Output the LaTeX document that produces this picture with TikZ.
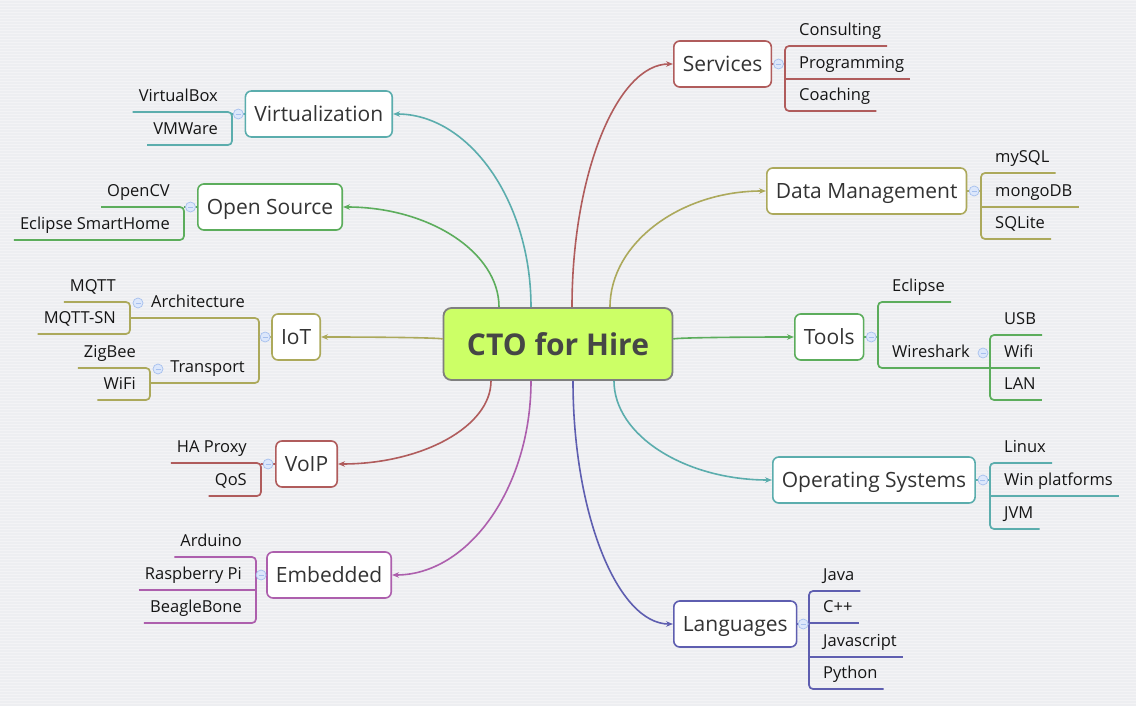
\documentclass[tikz,border=0pt]{standalone}
\usepackage{fontspec}
\setmainfont{Open Sans}
\usetikzlibrary{positioning,calc,arrows.meta}
\definecolor{BgGray}{HTML}{EDEEF1}
\definecolor{HubFill}{HTML}{CCFF66}
\definecolor{HubEdge}{HTML}{7F7F7F}
\definecolor{HubText}{HTML}{464646}
\definecolor{TopicText}{HTML}{333333}
\definecolor{LeafText}{HTML}{151515}
\definecolor{KnobFill}{HTML}{DCE7FB}
\definecolor{KnobEdge}{HTML}{A6C0EE}
\definecolor{RedBranch}{HTML}{B05C5C}
\definecolor{OliveBranch}{HTML}{ACA95B}
\definecolor{GreenBranch}{HTML}{5CAD5C}
\definecolor{TealBranch}{HTML}{5BADAD}
\definecolor{BlueBranch}{HTML}{5E5EB0}
\definecolor{PlumBranch}{HTML}{AD5FAD}
\newcommand{\HubFont}{\fontsize{30}{36}\selectfont\bfseries}
\newcommand{\TopicFont}{\fontsize{21}{25}\selectfont}
\newcommand{\LeafFont}{\fontsize{16.5}{19}\selectfont}
\newcommand{\Branch}[3]{%
  \draw[branch=#1] (#2) .. controls ($(#2)!0.55!(#2|-#3)$) and ($(#3)!0.55!(#3-|#2)$) .. (#3);}
\def\BoxHeight{46pt}
\tikzset{
  hub/.style={
    draw=HubEdge,
    fill=HubFill,
    rounded corners=8pt,
    line width=1.8pt,
    minimum width=229pt,
    minimum height=72pt,
    font=\HubFont,
    text=HubText
  },
  topic/.style={
    draw=#1,
    fill=white,
    rounded corners=6pt,
    line width=1.6pt,
    minimum height=\BoxHeight,
    inner xsep=9pt,
    text height=15pt,
    text depth=0pt,
    font=\TopicFont,
    text=TopicText
  },
  leafR/.style={font=\LeafFont, text=LeafText, inner sep=0pt,
    text height=12pt, text depth=10pt, anchor=south west,
    execute at begin node={\hspace*{14pt}}, execute at end node={\hspace*{6pt}}},
  leafL/.style={font=\LeafFont, text=LeafText, inner sep=0pt,
    text height=12pt, text depth=10pt, anchor=south east,
    execute at begin node={\hspace*{6pt}}, execute at end node={\hspace*{14pt}}},
  knob/.style={
    circle, draw=KnobEdge, fill=KnobFill, line width=0.7pt,
    minimum size=10pt, inner sep=0pt,
    path picture={\draw[KnobEdge, line width=0.9pt]
      ([xshift=-2.5pt]path picture bounding box.center) --
      ([xshift=2.5pt]path picture bounding box.center);}
  },
  branch/.style={draw=#1, line width=1.6pt, -{Stealth[length=7pt,width=5.5pt]}},
  twig/.style={draw=#1, line width=1.7pt, rounded corners=4pt}
}

\begin{document}
\begin{tikzpicture}[x=1pt,y=-1pt]
  \useasboundingbox (0,0) rectangle (1136,706);
  \fill[BgGray] (0,0) rectangle (1136,706);
  \foreach \y in {1,4,...,706}
    \draw[white, opacity=0.35, line width=1pt] (0,\y) -- (1136,\y);

  % central topic and main topics
  \node[hub] (hub) at (558,344) {CTO for Hire};

  \node[topic=RedBranch, anchor=west] (svc) at (673,64) {Services};
  \node[topic=OliveBranch, anchor=west] (data) at (766,191) {Data Management};
  \node[topic=GreenBranch, anchor=west] (tools) at (794,337) {Tools};
  \node[topic=TealBranch, anchor=west] (os) at (772,480) {Operating Systems};
  \node[topic=BlueBranch, anchor=west] (lang) at (673,624) {Languages};

  \node[topic=TealBranch, anchor=east] (virt) at (393,114) {Virtualization};
  \node[topic=GreenBranch, anchor=east] (open) at (343,207) {Open Source};
  \node[topic=OliveBranch, anchor=east] (iot) at (321,337) {IoT};
  \node[topic=RedBranch, anchor=east] (voip) at (338,464) {VoIP};
  \node[topic=PlumBranch, anchor=east] (emb) at (392,575) {Embedded};

  % branches out of the central topic
  \coordinate (svcOut) at ([xshift=14pt]hub.north);
  \coordinate (dataOut) at ([xshift=52pt]hub.north);
  \coordinate (virtOut) at ([xshift=-27pt]hub.north);
  \coordinate (openOut) at ([xshift=-59pt]hub.north);
  \coordinate (toolsOut) at ([yshift=5pt]hub.east);
  \coordinate (iotOut) at ([yshift=5pt]hub.west);
  \coordinate (voipOut) at ([xshift=-67pt]hub.south);
  \coordinate (embOut) at ([xshift=-27pt]hub.south);
  \coordinate (langOut) at ([xshift=15pt]hub.south);
  \coordinate (osOut) at ([xshift=56pt]hub.south);

  \Branch{RedBranch}{svcOut}{svc.west}
  \Branch{OliveBranch}{dataOut}{data.west}
  \Branch{GreenBranch}{toolsOut}{tools.west}
  \Branch{TealBranch}{osOut}{os.west}
  \Branch{BlueBranch}{langOut}{lang.west}
  \Branch{TealBranch}{virtOut}{virt.east}
  \Branch{GreenBranch}{openOut}{open.east}
  \Branch{OliveBranch}{iotOut}{iot.east}
  \Branch{RedBranch}{voipOut}{voip.east}
  \Branch{PlumBranch}{embOut}{emb.east}

  % Services
  \node[leafR] (consult) at (785,46) {Consulting};
  \node[leafR] (prog) at (785,79) {Programming};
  \node[leafR] (coach) at (785,111) {Coaching};
  \draw[twig=RedBranch] (consult.south east) -- (consult.south west) -- (coach.south west) -- (coach.south east);
  \draw[twig=RedBranch] (prog.south west) -- (prog.south east);
  \draw[twig=RedBranch] (svc.east) -- (svc.east -| consult.south west);
  \node[knob] (svcKnob) at ($(svc.east)!0.5!(svc.east -| consult.south west)$) {};

  % Data Management
  \node[leafR] (mysql) at (981,173) {mySQL};
  \node[leafR] (mongo) at (981,207) {mongoDB};
  \node[leafR] (sqlite) at (981,239) {SQLite};
  \draw[twig=OliveBranch] (mysql.south east) -- (mysql.south west) -- (sqlite.south west) -- (sqlite.south east);
  \draw[twig=OliveBranch] (mongo.south west) -- (mongo.south east);
  \draw[twig=OliveBranch] (data.east) -- (data.east -| mysql.south west);
  \node[knob] (dataKnob) at ($(data.east)!0.5!(data.east -| mysql.south west)$) {};

  % Tools
  \node[leafR] (eclipse) at (878,302) {Eclipse};
  \node[leafR] (wshark) at (878,368) {Wireshark};
  \node[leafR] (usb) at (990,335) {USB};
  \node[leafR] (wifi) at (990,368) {Wifi};
  \node[leafR] (lan) at (990,400) {LAN};
  \draw[twig=GreenBranch] (eclipse.south east) -- (eclipse.south west) -- (wshark.south west) -- (wifi.south west);
  \draw[twig=GreenBranch] (usb.south east) -- (usb.south west) -- (lan.south west) -- (lan.south east);
  \draw[twig=GreenBranch] (wifi.south west) -- (wifi.south east);
  \draw[twig=GreenBranch] (tools.east) -- (tools.east -| eclipse.south west);
  \node[knob] (toolsKnob) at ($(tools.east)!0.5!(tools.east -| eclipse.south west)$) {};
  \node[knob] (wsharkKnob) at (983,353) {};

  % Operating Systems
  \node[leafR] (linux) at (990,463) {Linux};
  \node[leafR] (win) at (990,496) {Win platforms};
  \node[leafR] (jvm) at (990,529) {JVM};
  \draw[twig=TealBranch] (linux.south east) -- (linux.south west) -- (jvm.south west) -- (jvm.south east);
  \draw[twig=TealBranch] (win.south west) -- (win.south east);
  \draw[twig=TealBranch] (os.east) -- (os.east -| linux.south west);
  \node[knob] (osKnob) at ($(os.east)!0.5!(os.east -| linux.south west)$) {};

  % Languages
  \node[leafR] (java) at (809,591) {Java};
  \node[leafR] (cpp) at (809,623) {C++};
  \node[leafR] (js) at (809,657) {Javascript};
  \node[leafR] (python) at (809,689) {Python};
  \draw[twig=BlueBranch] (java.south east) -- (java.south west) -- (python.south west) -- (python.south east);
  \draw[twig=BlueBranch] (cpp.south west) -- (cpp.south east);
  \draw[twig=BlueBranch] (js.south west) -- (js.south east);
  \draw[twig=BlueBranch] (lang.east) -- (lang.east -| java.south west);
  \node[knob] (langKnob) at ($(lang.east)!0.5!(lang.east -| java.south west)$) {};

  % Virtualization
  \node[leafL] (vbox) at (232,112) {VirtualBox};
  \node[leafL] (vmware) at (232,145) {VMWare};
  \draw[twig=TealBranch] (vbox.south west) -- (vbox.south east) -- (vmware.south east) -- (vmware.south west);
  \draw[twig=TealBranch] (virt.west) -- (virt.west -| vbox.south east);
  \node[knob] (virtKnob) at ($(virt.west)!0.5!(virt.west -| vbox.south east)$) {};

  % Open Source
  \node[leafL] (opencv) at (184,207) {OpenCV};
  \node[leafL] (smarthome) at (184,240) {Eclipse SmartHome};
  \draw[twig=GreenBranch] (opencv.south west) -- (opencv.south east) -- (smarthome.south east) -- (smarthome.south west);
  \draw[twig=GreenBranch] (open.west) -- (open.west -| opencv.south east);
  \node[knob] (openKnob) at ($(open.west)!0.5!(open.west -| opencv.south east)$) {};

  % IoT
  \node[leafL] (arch) at (259,318) {Architecture};
  \node[leafL] (transport) at (259,383) {Transport};
  \node[leafL] (mqtt) at (130,302) {MQTT};
  \node[leafL] (mqttsn) at (130,334) {MQTT-SN};
  \node[leafL] (zigbee) at (150,368) {ZigBee};
  \node[leafL] (wifi2) at (150,400) {WiFi};
  \draw[twig=OliveBranch] (arch.south east -| mqtt.south east) -- (arch.south east) -- (transport.south east) -- (transport.south east -| zigbee.south east);
  \draw[twig=OliveBranch] (mqtt.south west) -- (mqtt.south east) -- (mqttsn.south east) -- (mqttsn.south west);
  \draw[twig=OliveBranch] (zigbee.south west) -- (zigbee.south east) -- (wifi2.south east) -- (wifi2.south west);
  \draw[twig=OliveBranch] (iot.west) -- (iot.west -| arch.south east);
  \node[knob] (iotKnob) at ($(iot.west)!0.5!(iot.west -| arch.south east)$) {};
  \node[knob] (archKnob) at (138,303) {};
  \node[knob] (transportKnob) at (158,369) {};

  % VoIP
  \node[leafL] (haproxy) at (261,463) {HA Proxy};
  \node[leafL] (qos) at (261,496) {QoS};
  \draw[twig=RedBranch] (haproxy.south west) -- (haproxy.south east) -- (qos.south east) -- (qos.south west);
  \draw[twig=RedBranch] (voip.west) -- (voip.west -| haproxy.south east);
  \node[knob] (voipKnob) at ($(voip.west)!0.5!(voip.west -| haproxy.south east)$) {};

  % Embedded
  \node[leafL] (arduino) at (256,557) {Arduino};
  \node[leafL] (raspi) at (256,590) {Raspberry Pi};
  \node[leafL] (beagle) at (256,623) {BeagleBone};
  \draw[twig=PlumBranch] (arduino.south west) -- (arduino.south east) -- (beagle.south east) -- (beagle.south west);
  \draw[twig=PlumBranch] (raspi.south west) -- (raspi.south east);
  \draw[twig=PlumBranch] (emb.west) -- (emb.west -| arduino.south east);
  \node[knob] (embKnob) at ($(emb.west)!0.5!(emb.west -| arduino.south east)$) {};
\end{tikzpicture}
\end{document}
